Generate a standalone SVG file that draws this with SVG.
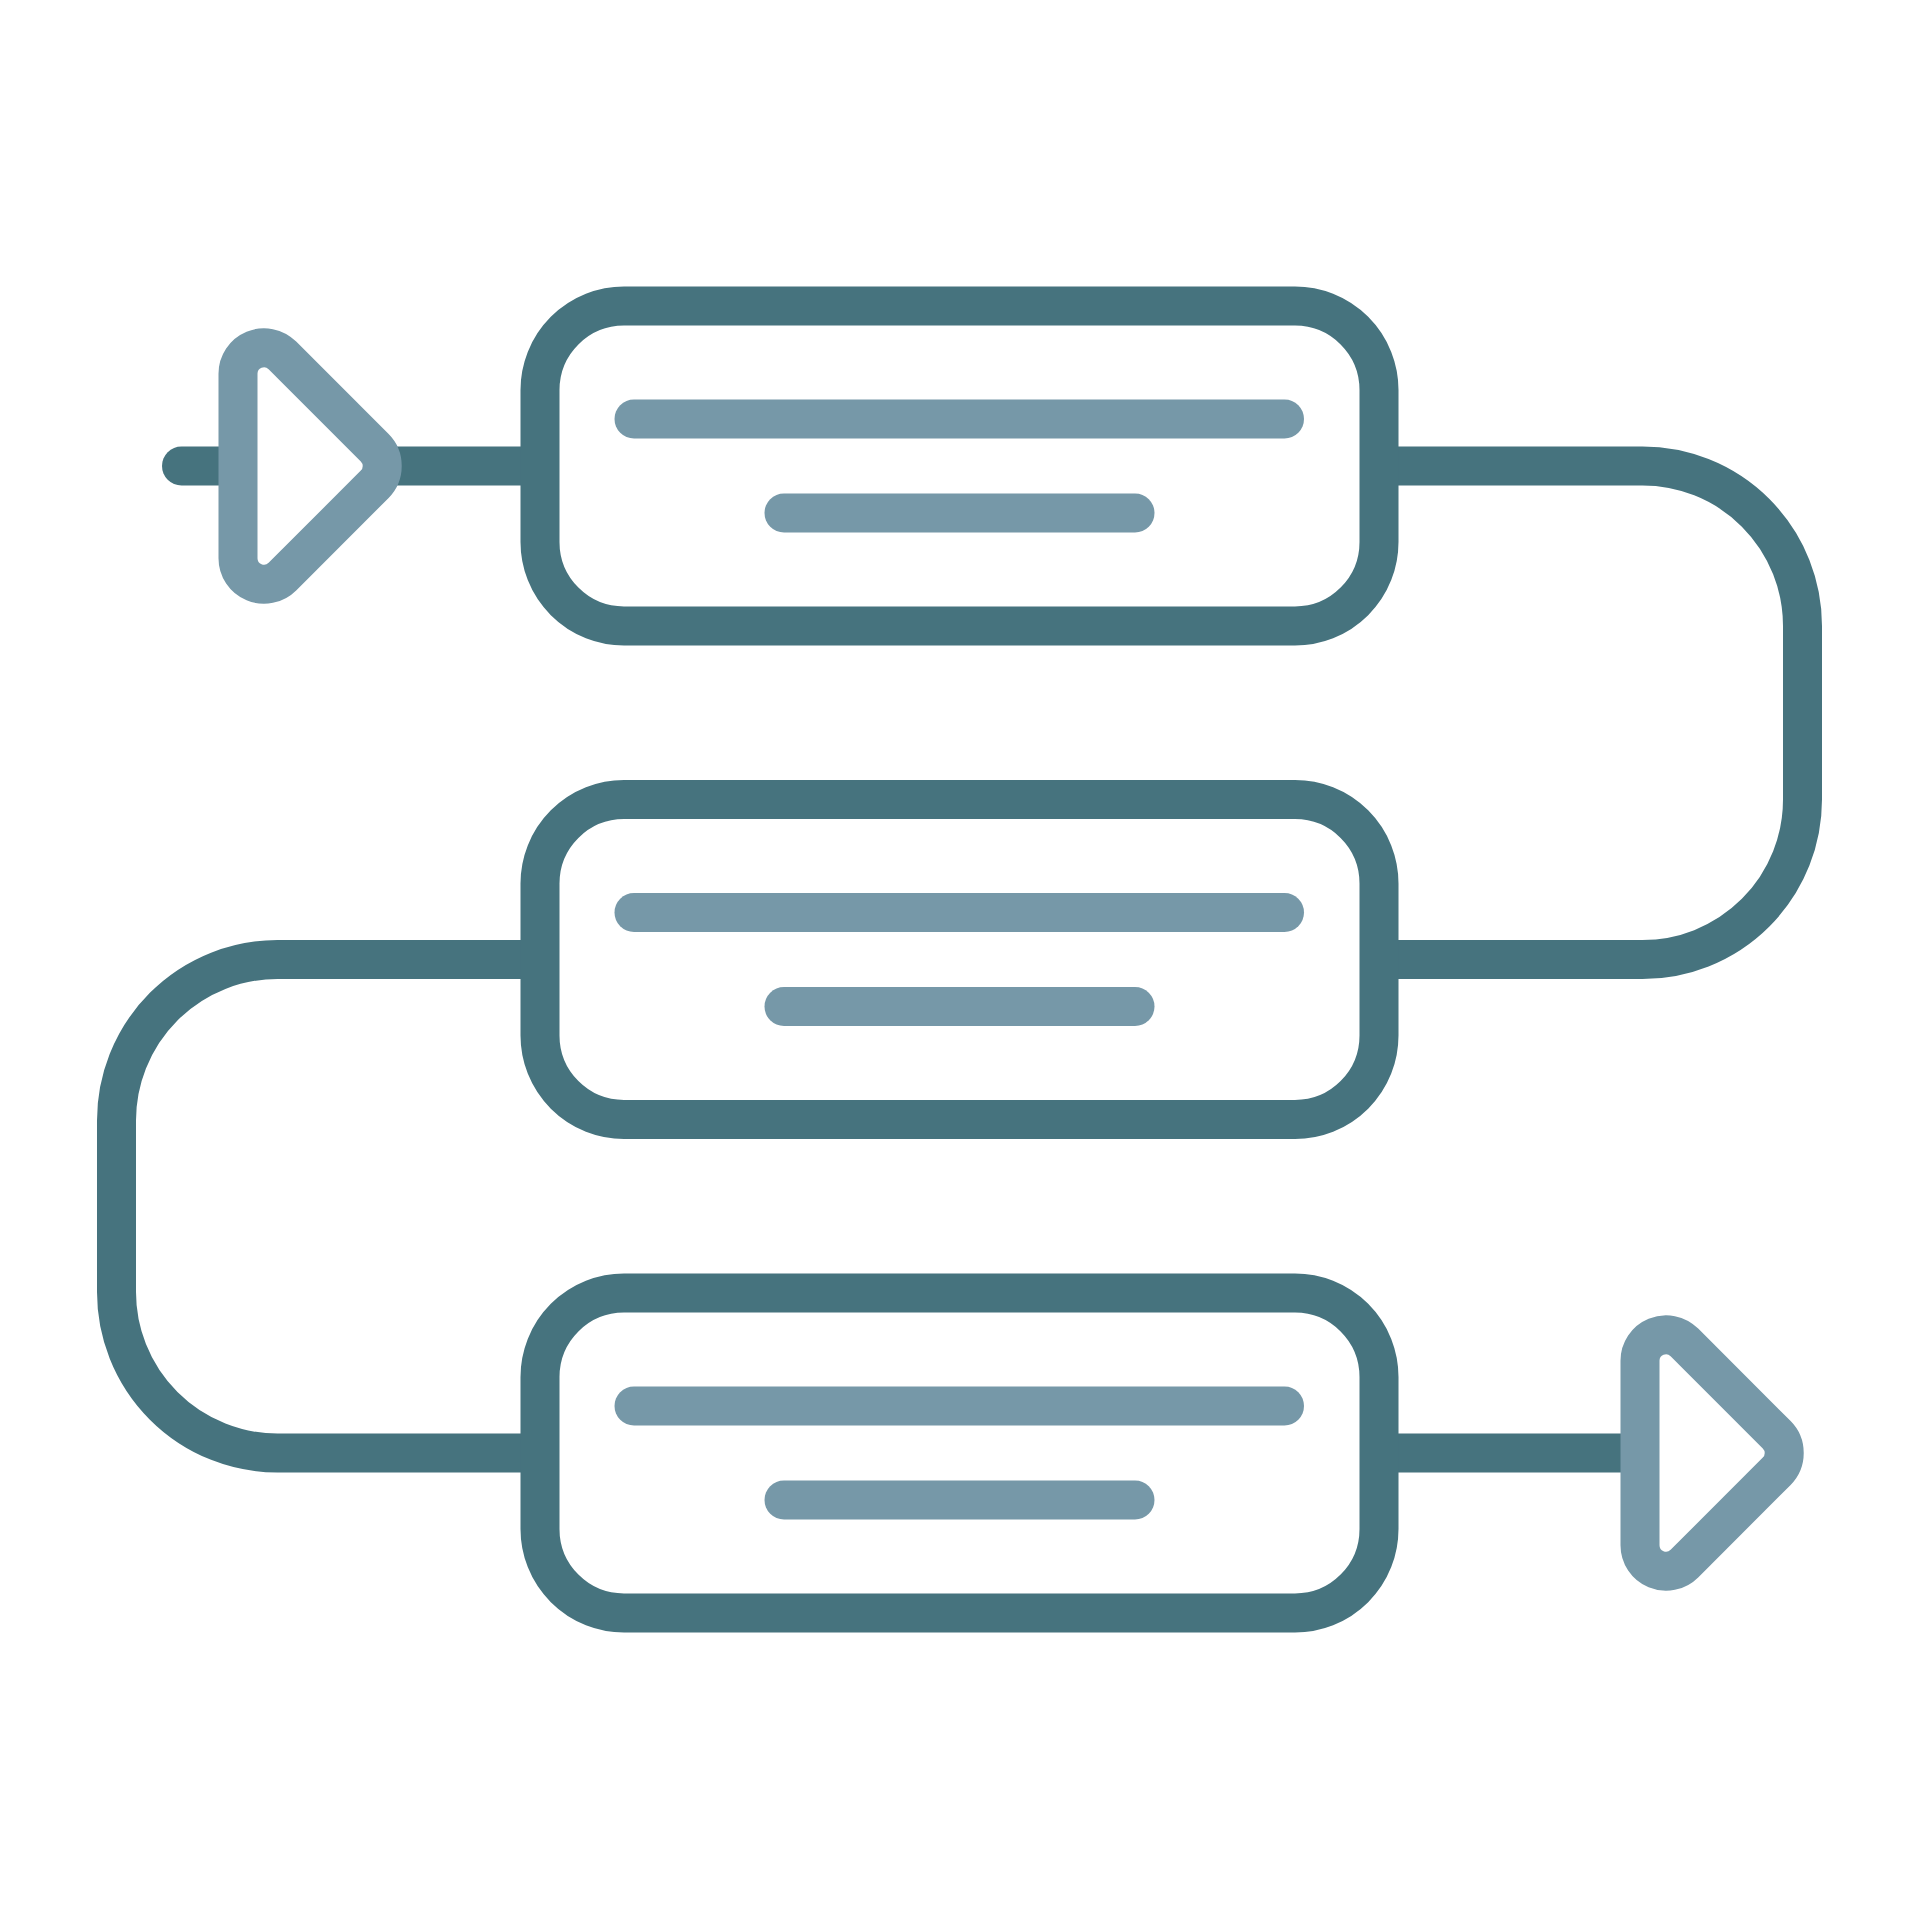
<svg xmlns="http://www.w3.org/2000/svg" width="1920" height="1920" viewBox="0 0 1920 1920">
<style>
.dark{fill:none;stroke:#46737e;stroke-width:39;stroke-linecap:round;stroke-linejoin:round}
.conn{fill:none;stroke:#46737e;stroke-width:39;stroke-linecap:butt}
.box{fill:#ffffff;stroke:#46737e;stroke-width:39}
.txt{fill:none;stroke:#7698a8;stroke-width:39;stroke-linecap:round}
.tri{fill:#ffffff;stroke:#7698a8;stroke-width:39;stroke-linejoin:round}
</style>
<defs>
<path id="triShape" d="M238 373.8 A26 26 0 0 1 282.4 355.4 L374.6 447.6 A26 26 0 0 1 374.6 484.4 L282.4 576.6 A26 26 0 0 1 238 558.2 Z"/>
</defs>
<rect width="1920" height="1920" fill="#ffffff"/>
<g id="connectors">
<path class="dark" d="M181.5 466 H300"/>
<path class="conn" d="M300 466 H540"/>
<path class="conn" d="M1379 466 H1642.5 A160 160 0 0 1 1802.5 626 V799.5 A160 160 0 0 1 1642.5 959.5 H1379"/>
<path class="conn" d="M540 959.5 H277.5 A161 161 0 0 0 116.5 1120.5 V1292 A161 161 0 0 0 277.5 1453 H540"/>
<path class="conn" d="M1379 1453 H1640"/>
</g>
<g id="start">
<use href="#triShape" class="tri"/>
</g>
<g id="step1">
<rect class="box" x="540" y="306" width="839" height="320" rx="84" ry="84"/>
<line class="txt" x1="634" y1="419" x2="1284.5" y2="419"/>
<line class="txt" x1="784" y1="513" x2="1135" y2="513"/>
</g>
<g id="step2">
<rect class="box" x="540" y="799.5" width="839" height="320" rx="84" ry="84"/>
<line class="txt" x1="634" y1="912.5" x2="1284.5" y2="912.5"/>
<line class="txt" x1="784" y1="1006.5" x2="1135" y2="1006.5"/>
</g>
<g id="step3">
<rect class="box" x="540" y="1293" width="839" height="320" rx="84" ry="84"/>
<line class="txt" x1="634" y1="1406" x2="1284.5" y2="1406"/>
<line class="txt" x1="784" y1="1500" x2="1135" y2="1500"/>
</g>
<g id="end">
<use href="#triShape" class="tri" transform="translate(1402 987)"/>
</g>
</svg>
